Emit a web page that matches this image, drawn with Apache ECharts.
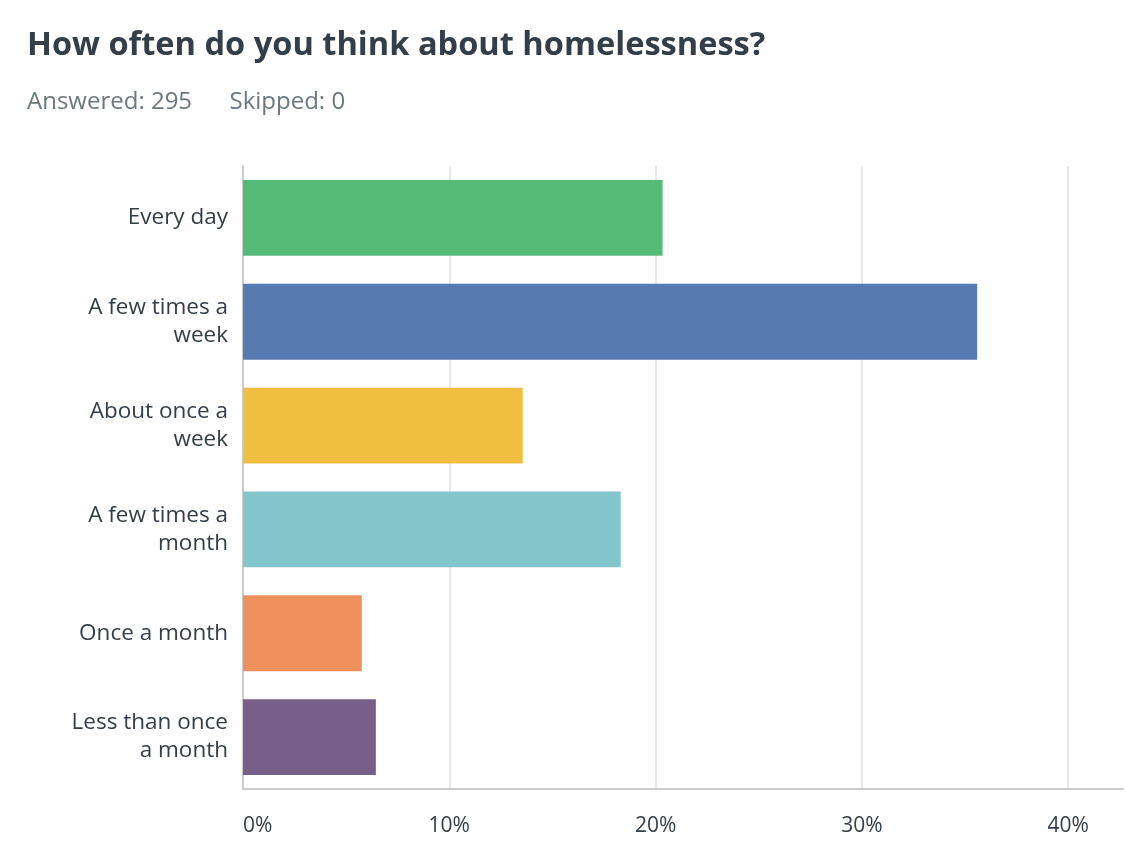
<!DOCTYPE html>
<html>
<head>
<meta charset="utf-8">
<script src="https://cdn.jsdelivr.net/npm/echarts@6/dist/echarts.min.js"></script>
<style>
html,body{margin:0;padding:0;background:#fff;overflow:hidden;}
#chart{width:1126px;height:868px;}
</style>
</head>
<body>
<div id="chart"></div>
<script>
const titleText = 'How often do you think about homelessness?';
const subtitleText = 'Answered: 295      Skipped: 0';
const categories = ['Every day', 'A few times a\nweek', 'About once a\nweek', 'A few times a\nmonth', 'Once a month', 'Less than once\na month'];
const percentages = [20.34, 35.59, 13.56, 18.31, 5.76, 6.44];
const barColors = ['#57bb78', '#577bb0', '#f0bf41', '#82c6cb', '#f0905c', '#785f8a'];
const tickValues = [0, 10, 20, 30, 40];

const chart = echarts.init(document.getElementById('chart'));
const font = '"Open Sans", sans-serif';
chart.setOption({
  animation: false,
  backgroundColor: '#fff',
  title: [
    {text: titleText, left: 27, top: 29, padding: 0, textStyle: {fontFamily: font, fontSize: 32.6, fontWeight: 'bold', color: '#333e48'}},
    {text: subtitleText, left: 27, top: 90, padding: 0, textStyle: {fontFamily: font, fontSize: 24, fontWeight: 'normal', color: '#6b787f'}}
  ],
  grid: {left: 243, top: 166, right: 0, bottom: 79, containLabel: false},
  xAxis: {
    type: 'value', min: 0, max: 42.66, interval: 10,
    axisLine: {show: true, lineStyle: {color: '#cccccc', width: 2}},
    axisTick: {show: false},
    splitLine: {show: true, showMaxLine: false, lineStyle: {color: '#e8e8e8', width: 2}},
    axisLabel: {
      fontFamily: font, fontSize: 21, color: '#333e48', margin: 27,
      alignMinLabel: 'left',
      formatter: v => tickValues.includes(Math.round(v * 100) / 100) ? v + '%' : ''
    }
  },
  yAxis: {
    type: 'category', data: categories, inverse: true,
    axisLine: {show: true, lineStyle: {color: '#cccccc', width: 2}},
    axisTick: {show: false},
    axisLabel: {fontFamily: font, fontSize: 22.5, color: '#333e48', margin: 15, lineHeight: 28, align: 'right'}
  },
  series: [{
    type: 'bar',
    data: percentages.map((v, i) => ({value: v, itemStyle: {color: barColors[i]}})),
    barCategoryGap: '27%'
  }]
});
</script>
</body>
</html>
